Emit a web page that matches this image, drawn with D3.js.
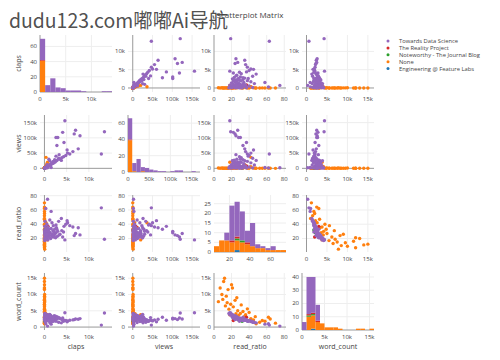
<!DOCTYPE html>
<html><head><meta charset="utf-8">
<script src="https://cdn.jsdelivr.net/npm/d3@7/dist/d3.min.js"></script>
<style>body{margin:0;background:#fff}svg{display:block}text{font-family:"Open Sans",sans-serif}</style>
</head><body><svg id="c" width="500" height="360"></svg>
<script>
// ---------- data ----------
const dims = ["claps", "views", "read_ratio", "word_count"];
const publications = ["Engineering @ Feature Labs", "None", "Noteworthy - The Journal Blog", "The Reality Project", "Towards Data Science"];
const pubColors = ["rgb(31,119,180)", "rgb(255,127,14)", "rgb(44,160,44)", "rgb(214,39,40)", "rgb(148,103,189)"];
const legendOrder = ["Towards Data Science", "The Reality Project", "Noteworthy - The Journal Blog", "None", "Engineering @ Feature Labs"];

// points: [claps, views, read_ratio, word_count]
const engineeringPoints = [[600, 7000, 26, 2700]];
const nonePoints = [
  [0,200,7,12000],[5,300,12,15000],[10,400,20,13000],[0,250,21,12000],[0,150,10,8500],
  [20,500,14,9500],[0,300,15,7500],[10,600,17,5500],[30,800,13,6500],[0,100,19,7000],
  [0,200,24,8200],[50,900,9,10000],[0,350,16,11500],[0,120,22,6200],[100,1500,27,5000],
  [0,80,33,4800],[0,150,40,4500],[20,250,55,2000],[0,100,64,2500],[10,200,58,1800],
  [0,300,47,3200],[150,2500,36,3800],[200,3000,30,4200],[250,5000,42,2600],[400,9000,28,3600],
  [300,6000,25,4100],[500,12000,35,3300],[600,15000,24,2900],[700,20000,18,3800],[350,36000,42,1900],
  [0,50,70,1200],[0,60,52,1500],[80,700,45,2200],[0,400,38,5600],[0,90,31,6800],
  [40,500,26,9000],[0,120,11,14000],[60,1000,5,7800],[0,200,62,3000],[0,150,48,1000]
];
const noteworthyPoints = [[200, 2500, 28, 2200], [100, 1500, 32, 1800]];
const realityPoints = [[500, 6000, 30, 2500], [300, 4000, 22, 2000], [800, 8000, 37, 3000]];
const tdsPoints = [
  [13500,120000,19,4300],[12800,47000,63,600],[4600,156000,18,4400],[7600,64000,35,2400],[8000,107000,25,2600],
  [6700,113000,24,2300],[7000,125000,27,2500],[4100,118000,22,2800],[3000,101000,30,2700],[2600,101000,28,2500],
  [2800,75000,33,3000],[5700,47000,38,2100],[6400,55000,36,2200],[5200,50000,42,1900],[4800,42000,40,2000],
  [4300,38000,29,1800],[3900,35000,31,2300],[3500,30000,26,2600],[3200,33000,44,1500],[2900,27000,23,3100],
  [2700,25000,35,2400],[2500,24000,21,3300],[2400,21000,27,2900],[2300,28000,33,2000],[2200,22000,24,3500],
  [2100,19000,29,2700],[2000,23000,38,1800],[2000,17000,22,3200],[1900,20000,31,2500],[1800,16000,26,3000],
  [1700,18000,42,1700],[1600,14000,24,2800],[1500,15000,34,2300],[1400,12000,20,3600],[1300,13000,28,2600],
  [1200,11000,46,1400],[1100,10000,25,3100],[1000,9000,33,2200],[900,8000,22,2900],[850,9500,29,2400],
  [800,7000,36,2100],[750,6500,18,3800],[700,8000,27,2600],[650,5000,31,2300],[600,6000,24,3300],
  [550,4500,40,1900],[500,5500,21,3000],[450,4000,28,2700],[400,3500,34,2000],[350,4200,26,2500],
  [300,3000,19,4000],[250,2500,31,2200],[200,2000,23,3400],[150,1500,44,1600],[100,1800,27,2800],
  [80,1200,37,2100],[60,900,17,4200],[50,800,25,3000],[40,700,32,2400],[30,600,20,3700],
  [20,500,29,2600],[700,2000,75,300],[300,1500,62,1000],[1500,3000,58,900],[3800,26000,48,1300],
  [5100,60000,45,1600],[2600,40000,39,1800],[1000,30000,30,2200],[3300,45000,25,2900],[600,12000,26,3200],
  [4400,85000,37,2100],[1200,25000,21,3900]
];

// histogram bins (start, step) and stacked counts per publication (order = publications)
const clapsBins = [0, 1000];
const clapsCounts = [
  [0,0,0,0,0,0,0,0,0,0,0,0,0,0],
  [41,0,0,0,0,0,0,0,0,0,0,0,0,0],
  [0,0,0,0,0,0,0,0,0,0,0,0,0,0],
  [1,0,0,0,0,0,0,0,0,0,0,0,0,0],
  [28,9,18,6,5,2,2,2,1,0,0,0,1,1]
];
const viewsBins = [0, 10000];
const viewsCounts = [
  [0,0,0,0,0,0,0,0,0,0,0,0,0,0,0,0,0],
  [39,1,0,1,0,0,0,0,0,0,0,0,0,0,0,0,0],
  [0,0,0,0,0,0,0,0,0,0,0,0,0,0,0,0,0],
  [1,0,0,0,0,0,0,0,0,0,0,0,0,0,0,0,0],
  [26,10,16,5,5,3,2,1,1,0,1,2,2,0,0,1,0]
];
const readRatioBins = [5, 5];
const readRatioCounts = [
  [0,0,0,0,1,0,0,0,0,0,0,0,0,0],
  [3,6,6,5,5,5,4,3,2,2,1,1,1,1],
  [0,0,0,0,1,1,0,0,0,0,0,0,0,0],
  [0,0,0,1,1,0,1,0,0,0,0,0,0,0],
  [0,0,4,18,18,15,6,12,2,1,1,2,0,0]
];
const wordCountBins = [0, 1000];
const wordCountCounts = [
  [0,0,1,0,0,0,0,0,0,0,0,0,0,0,0,0],
  [0,10,10,6,5,2,2,2,1,0,0,0,1,1,0,1],
  [0,1,1,0,0,0,0,0,0,0,0,0,0,0,0,0],
  [0,1,1,1,0,0,0,0,0,0,0,0,0,0,0,0],
  [6,28,27,12,0,0,0,0,0,0,0,0,0,0,0,0]
];

const dimTicks = [[0,5000,10000],[0,50000,100000,150000],[0,20,40,60,80],[0,5000,10000,15000]];
const histTicks = [[0,20,40,60],[0,20,40,60],[0,5,10,15,20,25],[0,10,20,30,40]];

// ---------- layout ----------
const svg = d3.select("#c");
const colX0 = [40, 128, 214, 302], colW = 72;
const rowY1 = [92, 172, 252, 330], rowH = 57;
const scatterX = [[-1000,15200],[-12000,170000],[0,82],[-1100,16500]];
const scatterY = [[-1100,14500],[-12000,175000],[1,81],[-900,16600]];
const histX = [[0,14000],[0,170000],[5,75],[0,16000]];
const histY = [[0,75],[0,70],[0,29.5],[0,43]];
const pointSets = [engineeringPoints, nonePoints, noteworthyPoints, realityPoints, tdsPoints];
const histSets = [[clapsBins, clapsCounts],[viewsBins, viewsCounts],[readRatioBins, readRatioCounts],[wordCountBins, wordCountCounts]];
const fmt = v => v === 0 ? "0" : d3.format("~s")(v);
const tickColor = "#444", gridColor = "#eee", zeroColor = "#999";

function axes(g, x, y, xt, yt, fx, fy) {
  const [x0, x1] = x.range(), [y1, y0] = y.range();
  xt.filter(t => t > x.domain()[0] && t <= x.domain()[1]).forEach(t => {
    if (t !== 0) g.append("line").attr("x1", x(t)).attr("x2", x(t)).attr("y1", y0).attr("y2", y1).attr("stroke", gridColor).attr("stroke-width", 1);
  });
  yt.filter(t => t > y.domain()[0] && t <= y.domain()[1]).forEach(t => {
    if (t !== 0) g.append("line").attr("x1", x0).attr("x2", x1).attr("y1", y(t)).attr("y2", y(t)).attr("stroke", gridColor).attr("stroke-width", 1);
  });
  xt.filter(t => t >= x.domain()[0] && t <= x.domain()[1]).forEach(t => {
    g.append("text").attr("x", x(t)).attr("y", y1 + 8.5).attr("text-anchor", "middle").attr("font-size", 6).attr("fill", tickColor).text(fx(t));
  });
  yt.filter(t => t >= y.domain()[0] && t <= y.domain()[1]).forEach(t => {
    g.append("text").attr("x", x0 - 3).attr("y", y(t) + 2).attr("text-anchor", "end").attr("font-size", 6).attr("fill", tickColor).text(fy(t));
  });
  if (x.domain()[0] <= 0 && x.domain()[1] > 0) g.append("line").attr("x1", x(0)).attr("x2", x(0)).attr("y1", y0).attr("y2", y1).attr("stroke", zeroColor).attr("stroke-width", 1);
  if (y.domain()[0] <= 0 && y.domain()[1] > 0) g.append("line").attr("x1", x0).attr("x2", x1).attr("y1", y(0)).attr("y2", y(0)).attr("stroke", zeroColor).attr("stroke-width", 1);
}

for (let r = 0; r < 4; r++) {
  for (let c = 0; c < 4; c++) {
    const g = svg.append("g");
    const px0 = colX0[c], py1 = rowY1[r];
    if (r === c) {
      const x = d3.scaleLinear().domain(histX[c]).range([px0, px0 + colW]);
      const y = d3.scaleLinear().domain(histY[r]).range([py1, py1 - rowH]);
      const [bins, counts] = histSets[c];
      const nb = counts[0].length;
      const rows = d3.range(nb).map(i => { const o = { i }; publications.forEach((p, k) => o[p] = counts[k][i]); return o; });
      const stacked = d3.stack().keys(publications)(rows);
      axes(g, x, y, dimTicks[c], histTicks[r], fmt, d => d);
      stacked.forEach((layer, k) => {
        g.append("g").selectAll("rect").data(layer.filter(d => d[1] > d[0])).join("rect")
          .attr("x", d => x(bins[0] + d.data.i * bins[1]))
          .attr("width", d => x(bins[0] + (d.data.i + 1) * bins[1]) - x(bins[0] + d.data.i * bins[1]))
          .attr("y", d => y(d[1])).attr("height", d => y(d[0]) - y(d[1]))
          .attr("fill", pubColors[k]);
      });
    } else {
      const x = d3.scaleLinear().domain(scatterX[c]).range([px0, px0 + colW]);
      const y = d3.scaleLinear().domain(scatterY[r]).range([py1, py1 - rowH]);
      axes(g, x, y, dimTicks[c], dimTicks[r], fmt, fmt);
      pointSets.forEach((pts, k) => {
        g.append("g").selectAll("circle").data(pts).join("circle")
          .attr("cx", d => x(d[c])).attr("cy", d => y(d[r])).attr("r", 1.7)
          .attr("fill", pubColors[k]);
      });
    }
  }
}

// axis titles
dims.forEach((d, i) => {
  svg.append("text").attr("x", colX0[i] + colW / 2).attr("y", 349).attr("text-anchor", "middle").attr("font-size", 7).attr("fill", tickColor).text(d);
  const cy = rowY1[i] - rowH / 2;
  svg.append("text").attr("transform", `translate(21,${cy}) rotate(-90)`).attr("text-anchor", "middle").attr("font-size", 7).attr("fill", tickColor).text(d);
});

// title
svg.append("text").attr("x", 250).attr("y", 18).attr("text-anchor", "middle").attr("font-size", 8).attr("fill", tickColor).text("Scatterplot Matrix");

// legend
legendOrder.forEach((p, i) => {
  const k = publications.indexOf(p);
  const ly = 41 + i * 6.9;
  svg.append("circle").attr("cx", 388).attr("cy", ly).attr("r", 1.5).attr("fill", pubColors[k]);
  svg.append("text").attr("x", 399).attr("y", ly + 2).attr("font-size", 5.8).attr("fill", tickColor).text(p);
});

// watermark (part of the reference image)
svg.append("text").attr("x", 9).attr("y", 28).attr("font-size", 20).attr("fill", "#3a3a3a").attr("fill-opacity", 0.9)
  .attr("textLength", 219).attr("lengthAdjust", "spacingAndGlyphs")
  .style("font-family", "'Noto Sans CJK SC','Noto Sans',sans-serif").text("dudu123.com嘟嘟Ai导航");
</script></body></html>
